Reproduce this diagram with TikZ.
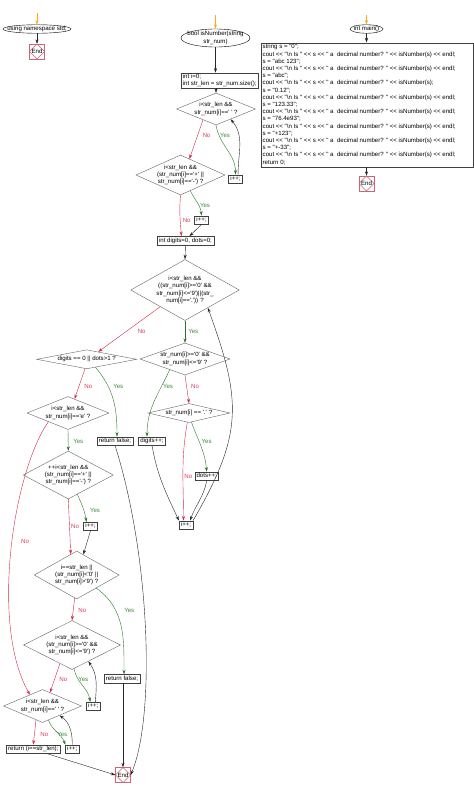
\documentclass[tikz,border=0pt]{standalone}
\usepackage{fontspec}
\setmainfont{Liberation Sans}[Ligatures=TeXOff]
\usetikzlibrary{shapes.geometric,arrows.meta,calc}
\newcommand\fs{\fontsize{6.1}{7.2}\selectfont}
\newcommand\bs{\textbackslash}
\newcommand\coutln{cout << "\bs n Is " << s << " a\ \ decimal number? " << isNumber(s)}
\definecolor{nored}{RGB}{214,40,70}
\definecolor{nolabc}{RGB}{220,60,90}
\definecolor{yesgr}{RGB}{40,120,40}
\definecolor{yeslabc}{RGB}{60,140,60}
\definecolor{startc}{RGB}{255,170,20}
\definecolor{endc}{RGB}{205,100,120}
\begin{document}
\begin{tikzpicture}[x=1pt,y=1pt,
  every node/.style={font=\fs},
  proc/.style={rectangle,draw=black!75,fill=white,line width=0.4pt,inner xsep=1.8pt,inner ysep=1.2pt},
  one/.style={text height=4.6pt,text depth=1.4pt},
  dec/.style={diamond,draw=black!60,fill=white,line width=0.4pt,inner sep=0pt},
  ell/.style={ellipse,draw=black,fill=white,line width=0.4pt,inner sep=0pt},
  txt/.style={align=center,inner sep=0pt},
  endsym/.style={rectangle,draw=endc,fill=white,line width=0.4pt,minimum size=15pt,inner sep=0pt,
    path picture={\draw[endc,line width=0.4pt] (path picture bounding box.north) -- (path picture bounding box.east) -- (path picture bounding box.south) -- (path picture bounding box.west) -- cycle;}},
  arr/.style={draw=black!85,line width=0.4pt,-{Stealth[length=4.5pt,width=3pt]}},
  noarr/.style={arr,draw=nored},
  yesarr/.style={arr,draw=yesgr},
  startarr/.style={arr,draw=startc},
  nolab/.style={text=nolabc,inner sep=0pt},
  yeslab/.style={text=yeslabc,inner sep=0pt}
]
\fill[white] (0,0) rectangle (474,-790);
\useasboundingbox (0,0) rectangle (474,-790);

% ---------- left: namespace ----------
\coordinate (sL) at (37,-13);
\node[ell,minimum width=68pt,minimum height=8.5pt] (ns) at (37,-29) {};
\node[txt] (nsT) at (ns) {using namespace std;};
\node[endsym] (endL) at (37,-51.5) {End};
\draw[startarr] (sL) -- (ns.north);
\draw[arr] (ns.south) -- (endL.north);

% ---------- right: main ----------
\coordinate (sR) at (366.5,-15);
\node[ell,minimum width=33pt,minimum height=8.5pt] (mainE) at (366.5,-29) {};
\node[txt] (mainT) at (mainE) {int main()};
\node[proc,minimum width=212.6pt,minimum height=124pt] (code) at (367,-104.7) {};
\node[anchor=west,align=left,inner sep=0pt] (codeT) at ($(code.west)+(2,0)$) {string s = "0";\\
\coutln{} << endl;\\
s = "abc 123";\\
\coutln{} << endl;\\
s = "abc";\\
\coutln;\\
s = "0.12";\\
\coutln{} << endl;\\
s = "123.33";\\
\coutln{} << endl;\\
s = "76.4e93";\\
\coutln{} << endl;\\
s = "+123";\\
\coutln{} << endl;\\
s = "+-33";\\
\coutln{} << endl;\\
return 0;};
\node[endsym] (endR) at (366.5,-183.5) {End};
\draw[startarr] (sR) -- (mainE.north);
\draw[arr] (mainE.south) -- (mainE.south |- code.north);
\draw[arr] (code.south -| endR.north) -- (endR.north);

% ---------- middle: isNumber ----------
\coordinate (sM) at (215.5,-15);
\node[ell,minimum width=69pt,minimum height=18pt] (fn) at (215.5,-38) {};
\node[txt] (fnT) at (fn) {bool isNumber(string\\ str\_num)};
\node[proc,align=left] (init) at (219.7,-80.5) {int i=0;\\ int str\_len = str\_num.size();};
\node[dec,minimum width=79pt,minimum height=32pt] (d1) at (216,-109) {};
\node[txt] (d1T) at (d1) {i<str\_len \&\&\\ str\_num[i]==' ' ?};
\node[proc,one] (ipp1) at (235.5,-179) {i++;};
\node[dec,minimum width=89pt,minimum height=40pt] (d2) at (180.5,-175) {};
\node[txt] (d2T) at (d2) {i<str\_len \&\&\\ (str\_num[i]=='+' ||\\ str\_num[i]=='-') ?};
\node[proc,one] (ipp2) at (201.5,-220) {i++;};
\node[proc,one] (dig) at (185.5,-240.5) {int digits=0, dots=0;};
\node[dec,minimum width=108.6pt,minimum height=61pt] (d3) at (185,-290) {};
\node[txt] (d3T) at (d3) {i<str\_len \&\&\\ ((str\_num[i]>='0' \&\&\\ str\_num[i]<='9')||(str\_\\ num[i]=='.')) ?};
\node[dec,minimum width=90pt,minimum height=32pt] (d4) at (185,-359) {};
\node[txt] (d4T) at (d4) {str\_num[i]>='0' \&\&\\ str\_num[i]<='9' ?};
\node[dec,minimum width=82pt,minimum height=19pt] (d5) at (189,-413) {};
\node[txt] (d5T) at (d5) {str\_num[i] == '.' ?};
\node[proc,one] (digpp) at (152,-441) {digits++;};
\node[proc,one] (dotpp) at (206.7,-476) {dots++;};
\node[proc,one] (ipp3) at (186,-525) {i++;};

% ---------- left branch ----------
\node[dec,minimum width=100pt,minimum height=19pt] (d6) at (86.7,-359.3) {};
\node[txt] (d6T) at (d6) {digits == 0 || dots>1 ?};
\node[proc,one] (rf1) at (115,-441) {return false;};
\node[dec,minimum width=82pt,minimum height=33pt] (d7) at (68,-413) {};
\node[txt] (d7T) at (d7) {i<str\_len \&\&\\ str\_num[i]=='e' ?};
\node[dec,minimum width=90pt,minimum height=48pt] (d8) at (68.3,-475) {};
\node[txt] (d8T) at (d8) {++i<str\_len \&\&\\ (str\_num[i]=='+' ||\\ str\_num[i]=='-') ?};
\node[proc,one] (ipp4) at (90.5,-526.3) {i++;};
\node[dec,minimum width=85pt,minimum height=48pt] (d9) at (76.7,-575) {};
\node[txt] (d9T) at (d9) {i==str\_len ||\\ (str\_num[i]<'0' ||\\ str\_num[i]>'9') ?};
\node[dec,minimum width=97pt,minimum height=49pt] (d10) at (72,-645) {};
\node[txt] (d10T) at (d10) {i<str\_len \&\&\\ (str\_num[i]>='0' \&\&\\ str\_num[i]<='9') ?};
\node[proc,one] (rf2) at (122,-678.7) {return false;};
\node[proc,one] (ipp5) at (93.3,-706.3) {i++;};
\node[dec,minimum width=78pt,minimum height=33pt] (d11) at (42.5,-706) {};
\node[txt] (d11T) at (d11) {i<str\_len \&\&\\ str\_num[i]==' ' ?};
\node[proc,one] (ret) at (33.3,-749) {return (i==str\_len);};
\node[proc,one] (ipp6) at (72.3,-749) {i++;};
\node[endsym] (endB) at (123,-775) {End};

% ---------- connectors middle ----------
\draw[startarr] (sM) -- (fn.north);
\draw[arr] (fn.south) -- (fn.south |- init.north);
\draw[arr] (d1.north |- init.south) -- (d1.north);
\draw[noarr] (d1.220) -- (d2.61);
\draw[yesarr] (d1.south) to[out=-80,in=90] (ipp1.north);
\draw[arr] (ipp1.60) to[out=90,in=-50] (d1.-35);
\draw[yesarr] (d2.-58) to[out=-65,in=95] (ipp2.north);
\draw[noarr] (d2.south) to[out=-95,in=95] ($(dig.north)+(-4,0)$);
\draw[arr] (ipp2.south) -- ($(dig.north)+(4,0)$);
\draw[arr] (dig.south) -- (d3.north);
\draw[yesarr] (d3.south) -- (d4.north);
\draw[noarr] (d3.214) -- (d6.33);
\draw[yesarr] (d4.215) to[out=-115,in=90] ($(digpp.north)+(-5,0)$);
\draw[noarr] (d4.south) -- (d5.north);
\draw[noarr] (d5.-100) to[out=-100,in=90] ($(ipp3.north)+(-2.5,0)$);
\draw[yesarr] (d5.-75) to[out=-70,in=95] (dotpp.north);
\draw[arr] (digpp.south) to[out=-80,in=115] (ipp3.north west);
\draw[arr] (dotpp.south) to[out=-100,in=70] ($(ipp3.north)+(4,0)$);
\draw[arr] (ipp3.north east) to[out=60,in=-70,looseness=1.2] (d3.-38);

% ---------- connectors left ----------
\draw[noarr] (d6.-100) -- (d7.65);
\draw[yesarr] (d6.-42) to[out=-50,in=90] ($(rf1.north)+(2,0)$);
\draw[yesarr] (d7.south) -- (d8.north);
\draw[noarr] (d7.204) .. controls +(-35,-50) and +(-40,70) .. (d11.138);
\draw[yesarr] (d8.-65) to[out=-65,in=100] ($(ipp4.north)+(-4,0)$);
\draw[noarr] (d8.south) -- (d9.106);
\draw[arr] (ipp4.south) -- (d9.72);
\draw[noarr] (d9.-95) -- (d10.north);
\draw[yesarr] (d9.-34) to[out=-35,in=90] ($(rf2.north)+(2,0)$);
\draw[yesarr] (d10.-85) to[out=-80,in=100] ($(ipp5.north)+(-3,0)$);
\draw[noarr] (d10.237) -- (d11.61);
\draw[arr] ($(ipp5.north)+(2,0)$) to[out=85,in=-55] (d10.-45);
\draw[noarr] (d11.245) -- (ret.north);
\draw[yesarr] (d11.-67) to[out=-70,in=110] ($(ipp6.north)+(-7,0)$);
\draw[arr] (ipp6.north) to[out=90,in=-35] (d11.-29);
\draw[arr] ($(ret.south)+(13,0)$) -- (endB.west);
\draw[arr] (rf2.south -| endB.north) -- (endB.north);
\draw[arr] (rf1.south) .. controls +(35,-110) and +(25,60) .. (endB.east);

% ---------- labels ----------
\node[nolab] (l1) at (206.7,-135) {No};
\node[yeslab] (l2) at (225,-135) {Yes};
\node[yeslab] (l3) at (205,-205) {Yes};
\node[nolab] (l4) at (186.7,-220) {No};
\node[nolab] (l5) at (141.7,-331.7) {No};
\node[yeslab] (l6) at (193.3,-331.7) {Yes};
\node[nolab] (l7) at (88.3,-386.7) {No};
\node[yeslab] (l8) at (118.3,-386.7) {Yes};
\node[yeslab] (l9) at (168,-386.7) {Yes};
\node[nolab] (l10) at (195,-386.7) {No};
\node[yeslab] (l11) at (78.3,-441) {Yes};
\node[yeslab] (l12) at (206.7,-441) {Yes};
\node[nolab] (l13) at (188.3,-476) {No};
\node[yeslab] (l14) at (95,-510.7) {Yes};
\node[nolab] (l15) at (75,-526) {No};
\node[nolab] (l16) at (25,-541.7) {No};
\node[nolab] (l17) at (82.3,-610.7) {No};
\node[yeslab] (l18) at (129.3,-610.7) {Yes};
\node[nolab] (l19) at (63.3,-679.3) {No};
\node[yeslab] (l20) at (83.3,-679.3) {Yes};
\node[nolab] (l21) at (44.3,-734) {No};
\node[yeslab] (l22) at (62.3,-734) {Yes};
\end{tikzpicture}
\end{document}
